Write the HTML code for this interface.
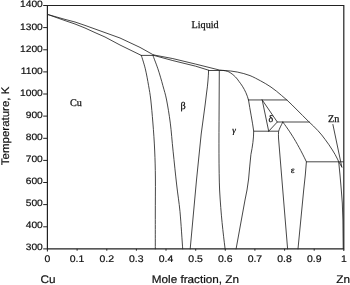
<!DOCTYPE html>
<html><head><meta charset="utf-8">
<style>
html,body{margin:0;padding:0;background:#fff;}
body{width:350px;height:285px;overflow:hidden;position:relative;}
svg{position:absolute;left:0;top:0;display:block;}
text{text-rendering:geometricPrecision;}
.s{font-family:"Liberation Sans",sans-serif;fill:#111;stroke:#111;stroke-width:0.2;}
.t{font-family:"Liberation Serif",serif;fill:#111;stroke:#111;stroke-width:0.25;}
.l{fill:none;stroke:#262626;stroke-width:0.85;stroke-linecap:round;stroke-linejoin:round;}
.ax{fill:none;stroke:#222;stroke-width:1.2;}
.tk{fill:none;stroke:#222;stroke-width:1;}
</style></head><body>
<svg width="350" height="285" viewBox="0 0 350 285">
<rect x="0" y="0" width="350" height="285" fill="#fff"/>
<!-- frame -->
<path class="ax" d="M47.4 5.5H343.8V248.9H47.4Z"/>
<!-- y ticks -->
<path class="tk" d="M43.2 5.5H47.4M43.2 27.6H47.4M43.2 49.8H47.4M43.2 71.9H47.4M43.2 94.0H47.4M43.2 116.1H47.4M43.2 138.3H47.4M43.2 160.4H47.4M43.2 182.5H47.4M43.2 204.6H47.4M43.2 226.8H47.4M43.2 248.9H47.4"/>
<!-- x ticks -->
<path class="tk" d="M47.4 248.9V251.5M77.1 248.9V250.7M106.8 248.9V250.7M136.4 248.9V250.7M166 248.9V250.7M195.7 248.9V250.7M225.3 248.9V250.7M254.9 248.9V250.7M284.6 248.9V250.7M314.2 248.9V250.7M343.8 248.9V251"/>
<!-- y labels -->
<g class="s" font-size="9.3" text-anchor="end" stroke-width="0.4">
<text transform="translate(42.8 7.4) scale(1.1 1)">1400</text>
<text transform="translate(42.8 29.5) scale(1.1 1)">1300</text>
<text transform="translate(42.8 51.6) scale(1.1 1)">1200</text>
<text transform="translate(42.8 73.6) scale(1.1 1)">1100</text>
<text transform="translate(42.8 95.7) scale(1.1 1)">1000</text>
<text transform="translate(42.8 117.8) scale(1.1 1)">900</text>
<text transform="translate(42.8 139.9) scale(1.1 1)">800</text>
<text transform="translate(42.8 162.0) scale(1.1 1)">700</text>
<text transform="translate(42.8 184.0) scale(1.1 1)">600</text>
<text transform="translate(42.8 206.1) scale(1.1 1)">500</text>
<text transform="translate(42.8 228.2) scale(1.1 1)">400</text>
<text transform="translate(42.8 250.3) scale(1.1 1)">300</text>
</g>
<!-- x labels -->
<g class="s" font-size="9.6" text-anchor="middle" stroke-width="0.4">
<text transform="translate(47.4 262.1) scale(1.09 1)">0</text>
<text transform="translate(77.0 262.1) scale(1.09 1)">0.1</text>
<text transform="translate(106.7 262.1) scale(1.09 1)">0.2</text>
<text transform="translate(136.3 262.1) scale(1.09 1)">0.3</text>
<text transform="translate(166.0 262.1) scale(1.09 1)">0.4</text>
<text transform="translate(195.6 262.1) scale(1.09 1)">0.5</text>
<text transform="translate(225.2 262.1) scale(1.09 1)">0.6</text>
<text transform="translate(254.9 262.1) scale(1.09 1)">0.7</text>
<text transform="translate(284.5 262.1) scale(1.09 1)">0.8</text>
<text transform="translate(314.2 262.1) scale(1.09 1)">0.9</text>
<text transform="translate(343.8 262.1) scale(1.09 1)">1</text>
</g>
<g class="s" font-size="11">
<text transform="translate(40.5 282.7) scale(1.065 1)">Cu</text>
<text transform="translate(151.8 282.7) scale(1.065 1)">Mole fraction, Zn</text>
<text transform="translate(336.3 282.7) scale(1.065 1)">Zn</text>
<text transform="translate(9.0 165.2) rotate(-90) scale(1.045 1)">Temperature, K</text>
</g>
<!-- phase labels -->
<g class="t" font-size="10.2">
<text x="191.5" y="27.5">Liquid</text>
<text x="70" y="105.8">Cu</text>
<text x="180.5" y="108.8">β</text>
<text x="232.2" y="133" font-size="9" font-style="italic">γ</text>
<text x="268.6" y="121.8" font-size="10">δ</text>
<text x="290.8" y="173.2" font-size="9">ε</text>
<text x="328" y="122.4">Zn</text>
</g>
<!-- curves -->
<g class="l">
<!-- Cu liquidus / solidus -->
<path d="M47.5 14.4L65 19.4L75 22L85 25.4L95 29L105 32.6L120 38L140 47.4L152.9 54.6L155 55.2L172.9 58.6L195.7 64.1L219.3 70L224 70.5"/>
<path d="M47.5 14.4L65 20.6L75 24L85 28L95 32.6L105 37L120 45L141.3 55.4"/>
<path d="M141.3 55.4H153.5"/>
<path d="M153.4 55.3L172.9 60.6L195.7 66.2L208.6 70.2"/>
<path d="M208.6 70.5H224"/>
<!-- alpha solvus -->
<path d="M141.3 55.4C142.0 57.6 144.1 63.8 145.3 68.8C146.5 73.8 147.7 80.5 148.6 85.7C149.5 90.9 150.1 93.8 150.8 100.0C151.5 106.2 152.2 114.5 152.9 123.0C153.6 131.5 154.3 141.8 154.7 151.0C155.1 160.2 155.3 167.3 155.4 178.0C155.5 188.7 155.3 203.2 155.3 215.0C155.3 226.8 155.3 243.0 155.3 248.9"/>
<!-- beta left -->
<path d="M152.9 55.4C153.7 57.6 156.2 63.8 157.9 68.8C159.6 73.8 161.5 80.5 162.9 85.7C164.3 90.9 165.4 93.8 166.6 100.0C167.8 106.2 169.2 114.6 170.3 123.1C171.4 131.6 172.0 140.9 173.1 151.2C174.2 161.5 175.5 174.9 176.7 185.0C177.8 195.1 179.0 201.1 180.0 211.7C181.0 222.3 182.2 242.4 182.7 248.9"/>
<!-- beta right -->
<path d="M208.6 70.5C208.5 76 207.6 86 206.7 92L205.1 105L201.2 134L196.5 180L190.2 248.9"/>
<!-- gamma left -->
<path d="M219.3 70.5L219.1 110C218.9 140 218.8 170 219.6 190C221 215 223 232 225.1 248.9"/>
<!-- liquidus right big arc -->
<path d="M224 70.5C233 70.8 242 72.6 250 75.6C254 77.2 257 79 260.5 80.8C264 82.6 267.5 84.8 271 87.1C275 89.8 278.5 92.8 281.6 95.5L286.8 99.95L292.1 105L302.6 115.5L308.9 121.8C312 124.6 315 127.5 317.8 130.5C320.5 133.3 323 136.5 325.3 139.7C327.8 143 330.2 146.5 332.4 150C334.3 153 336 156 337.5 159.1L338.9 162L341.8 167"/>
<!-- gamma right top curve -->
<path d="M224 70.5C226.5 70.8 228.5 71.6 230.1 72.6C232 73.8 233.8 75.2 235.4 76.9C236.8 78.3 237.9 79.8 238.9 81.3C240.2 83 241.4 84.6 242.4 86.2C243.8 88.4 244.9 90.5 245.9 92.7C246.9 95 247.8 97.4 248.5 99.95"/>
<path d="M248.5 99.95H286.8"/>
<path d="M248.5 99.95C250 110 252.5 122 253.7 131.2C253.6 139 252.6 146 250.9 154.6C250 163 249.3 171 248.6 179L247 190L245 200L236.1 248.9"/>
<path d="M253.7 131.2H278.4"/>
<!-- delta -->
<path d="M262.2 99.95L268.7 131.2"/>
<path d="M262.2 99.95L277.3 122L268.7 131.2"/>
<path d="M277.3 122H309.2"/>
<!-- epsilon -->
<path d="M282.8 122C281.2 125.5 279.3 128.5 278.6 131.5C278.4 133.5 278.4 136 278.5 138L287.6 248.9"/>
<path d="M282.8 122C288 129 296 140 306.4 161.8L305.3 175L303.7 190L298 248.9"/>
<path d="M306.4 161.8H343.5"/>
<!-- Zn leader and solvus -->
<path d="M332.9 124.5L341.8 167"/>
<path d="M338.7 161.8L340 175L341.3 190L342.3 203L342.9 220L343.2 248.5"/>
</g>
</svg>
</body></html>
